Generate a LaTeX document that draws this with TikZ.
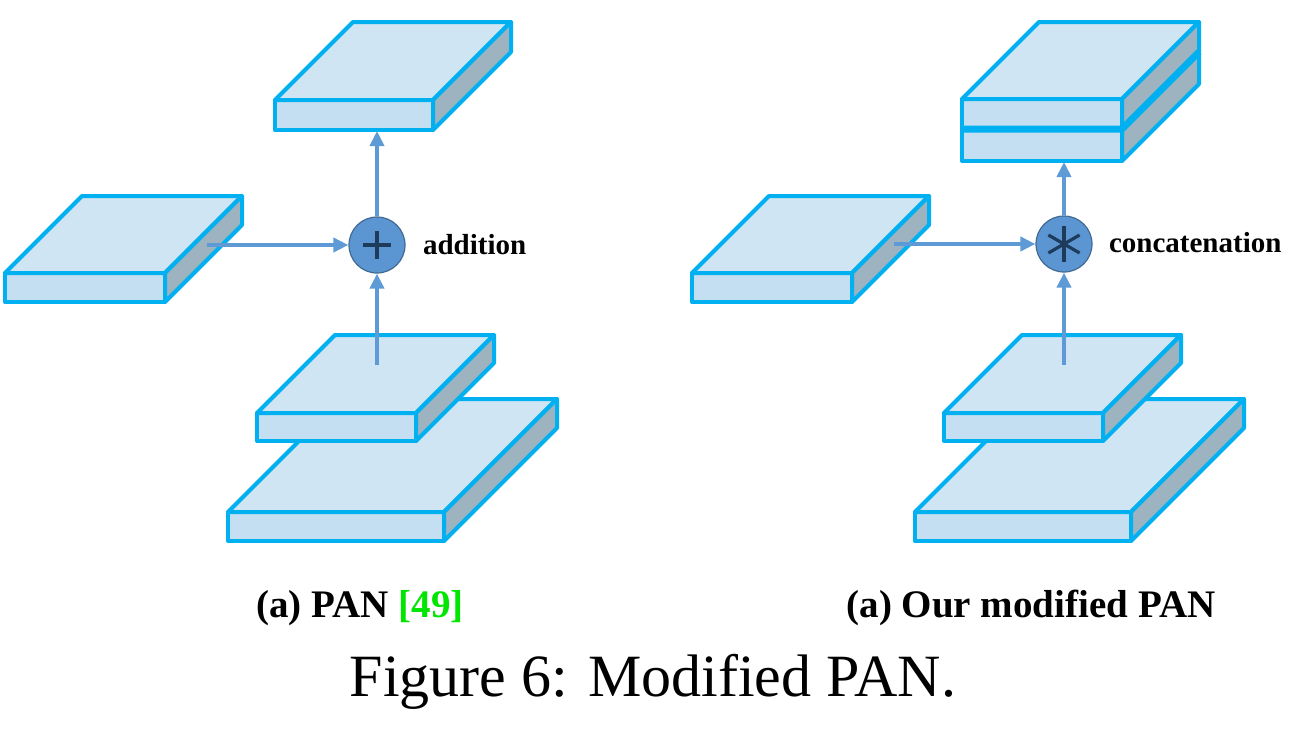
\documentclass[tikz,border=0pt]{standalone}
\usepackage{fontspec}
\setmainfont{Liberation Serif}
\usetikzlibrary{arrows.meta}
\definecolor{slabline}{HTML}{00B0F0}
\definecolor{slabtop}{HTML}{D0E5F3}
\definecolor{slabfront}{HTML}{C4DFF1}
\definecolor{slabside}{HTML}{9EB3C0}
\definecolor{flowblue}{HTML}{5E9BD6}
\definecolor{opfill}{HTML}{5B96D2}
\definecolor{opdark}{HTML}{1F3B5C}
\definecolor{citegreen}{HTML}{00E600}
\tikzset{
  slabedge/.style={draw=slabline, line width=2pt, line join=round},
  flow/.style={draw=flowblue, line width=2pt, -{Triangle[length=7.5pt,width=7pt]}},
  opnode/.style={circle, minimum size=28pt, inner sep=0pt, fill=opfill, draw=opfill!70!black, line width=0.6pt},
  oplabel/.style={anchor=west, font=\fontsize{14.5}{17}\selectfont\bfseries},
  sublabel/.style={font=\fontsize{19.5}{22}\selectfont\bfseries},
}
% slab: x, y of front top-left corner, width, height, depth
\newcommand{\slab}[5]{%
  \filldraw[slabedge, fill=slabfront] (#1,#2) rectangle ++(#3,#4);
  \filldraw[slabedge, fill=slabtop] (#1,#2) -- ++(#5,-#5) -- ++(#3,0) -- ++(-#5,#5) -- cycle;
  \filldraw[slabedge, fill=slabside] ({#1+#3},#2) -- ++(#5,-#5) -- ++(0,#4) -- ++(-#5,#5) -- cycle;
}

\begin{document}
\begin{tikzpicture}[x=0.5pt, y=-0.5pt]
   \useasboundingbox (0,0) rectangle (1296,734);
   % (a) PAN
   \slab{228}{512}{216}{29}{113}
   \slab{257}{413}{159}{28}{78}
   \slab{5}{273}{160}{29}{77}
   \slab{275}{100}{158}{30}{78}
   \node[opnode] (addL) at (377,245) {};
   \draw[opdark, line width=2pt] ([xshift=-7pt]addL.center) -- ([xshift=7pt]addL.center);
   \draw[opdark, line width=2pt] ([yshift=-7pt]addL.center) -- ([yshift=7pt]addL.center);
   \node[oplabel] (addtext) at (416,245) {addition};
   \coordinate (fromleftL) at (207,245);
   \coordinate (frombotL) at (377,365);
   \coordinate (totopL) at (377,131);
   \draw[flow] (fromleftL) -- (addL.west);
   \draw[flow] (frombotL) -- (addL.south);
   \draw[flow] (addL.north) -- (totopL);
   % (a) Our modified PAN
   \slab{915}{512}{216}{29}{113}
   \slab{944}{413}{159}{28}{78}
   \slab{692}{273}{160}{29}{77}
   \slab{962}{99}{160}{62}{77}
   \draw[slabline, line width=3.5pt, line join=round] (962,129) -- ++(160,0) -- ++(77,-77);
   \node[opnode] (catR) at (1064,244) {};
   \foreach \a in {90,30,150}
      \draw[opdark, line width=1.6pt] ([shift={(\a:9pt)}]catR.center) -- ([shift={(\a+180:9pt)}]catR.center);
   \node[oplabel] (cattext) at (1102,243) {concatenation};
   \coordinate (fromleftR) at (894,244);
   \coordinate (frombotR) at (1064,365);
   \coordinate (totopR) at (1064,162);
   \draw[flow] (fromleftR) -- (catR.west);
   \draw[flow] (frombotR) -- (catR.south);
   \draw[flow] (catR.north) -- (totopR);
   % captions
   \node[sublabel] (capL) at (360,608) {(a) PAN \textcolor{citegreen}{[49]}};
   \node[sublabel] (capR) at (1031,608) {(a) Our modified PAN};
   \node[font=\fontsize{30}{35}\selectfont] (fig) at (653,682) {Figure 6: Modified PAN.};
\end{tikzpicture}
\end{document}
